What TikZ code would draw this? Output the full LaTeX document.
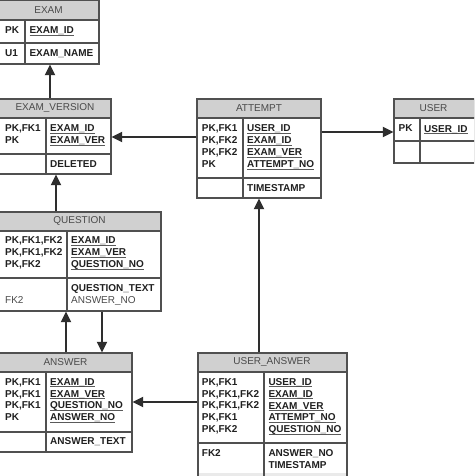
\documentclass[tikz,border=0pt]{standalone}
\usepackage{fontspec}
\setmainfont{Liberation Sans}
\usetikzlibrary{arrows.meta,fit}
\definecolor{hdrfill}{HTML}{D0D0D0}
\definecolor{boxline}{HTML}{505050}
\definecolor{txtdark}{HTML}{202020}
\definecolor{txtgray}{HTML}{4A4A4A}
\definecolor{arrline}{HTML}{2E2E2E}
\definecolor{ulcol}{HTML}{5A5A5A}
\newlength{\myulw}
\newcommand{\keyu}[1]{\settowidth{\myulw}{#1}\rlap{\textcolor{ulcol}{\rule[-1.9pt]{\myulw}{0.7pt}}}#1}
\newcommand{\rg}[1]{{\mdseries\textcolor{txtgray}{#1}}}
\tikzset{
  ent/.style={draw=boxline, line width=1.2pt, inner sep=0pt},
  sepline/.style={draw=boxline, line width=1.2pt},
  hdrtxt/.style={inner sep=0pt, text=txtgray, font=\fontsize{10}{11.9}\selectfont},
  cell/.style={anchor=north west, inner sep=0pt, align=left, text=txtdark, font=\fontsize{10}{11.9}\selectfont\bfseries},
  rcell/.style={anchor=north west, inner sep=0pt, align=left, text=txtgray, font=\fontsize{10}{11.9}\selectfont},
  arr/.style={draw=arrline, line width=1.8pt, -{Triangle[width=10pt,length=10.5pt]}},
}
% #1 name, #2 left, #3 top, #4 right, #5 bottom, #6 header bottom, #7 key bottom, #8 divider x
\newcommand{\entity}[8]{%
  \fill[hdrfill] (#2,#3) rectangle (#4,#6);
  \node[ent, fit={(#2,#3) (#4,#5)}] (#1) {};
  \draw[sepline] (#2,#6) -- (#4,#6);
  \draw[sepline] (#2,#7) -- (#4,#7);
  \draw[sepline] (#8,#6) -- (#8,#5);
}
\begin{document}
\begin{tikzpicture}[x=1pt,y=-1pt]
\useasboundingbox (0,0) rectangle (474,476);
\fill[white] (0,0) rectangle (474,476);
\clip (0,0) rectangle (474,476);

% EXAM
\entity{exam}{-2}{0.5}{99}{64}{20}{43}{25}
\node[hdrtxt] (exam-t) at (48.5,10) {EXAM};
\node[cell] (exam-k1) at (5,26.6) {PK};
\node[cell] (exam-k2) at (29.3,26.6) {\keyu{EXAM\_ID}};
\node[cell] (exam-n1) at (5,49.6) {U1};
\node[cell] (exam-n2) at (29.3,49.6) {EXAM\_NAME};

% EXAM_VERSION
\entity{ev}{-2}{99}{111}{174}{118}{154}{46}
\node[hdrtxt] (ev-t) at (55,108.5) {EXAM\_VERSION};
\node[cell] (ev-k1) at (5,124.6) {PK,FK1\\PK};
\node[cell] (ev-k2) at (50,124.6) {\keyu{EXAM\_ID}\\\keyu{EXAM\_VER}};
\node[cell] (ev-n2) at (50,160.4) {DELETED};

% ATTEMPT
\entity{att}{197}{99}{321}{198}{118}{178}{243}
\node[hdrtxt] (att-t) at (259,108.5) {ATTEMPT};
\node[cell] (att-k1) at (201.7,124.7) {PK,FK1\\PK,FK2\\PK,FK2\\PK};
\node[cell] (att-k2) at (247,124.7) {\keyu{USER\_ID}\\\keyu{EXAM\_ID}\\\keyu{EXAM\_VER}\\\keyu{ATTEMPT\_NO}};
\node[cell] (att-n2) at (247,184.1) {TIMESTAMP};

% USER
\entity{user}{394}{99}{475}{163}{118}{141}{420}
\node[hdrtxt] (user-t) at (433.5,108.5) {USER};
\node[cell] (user-k1) at (398.5,124.9) {PK};
\node[cell] (user-k2) at (424,124.9) {\keyu{USER\_ID}};

% QUESTION
\entity{q}{-2}{212}{161}{311}{231}{278}{67}
\node[hdrtxt] (q-t) at (79.5,221) {QUESTION};
\node[cell] (q-k1) at (5,236.7) {PK,FK1,FK2\\PK,FK1,FK2\\PK,FK2};
\node[cell] (q-k2) at (71,236.7) {\keyu{EXAM\_ID}\\\keyu{EXAM\_VER}\\\keyu{QUESTION\_NO}};
\node[rcell] (q-n1) at (5,296.4) {FK2};
\node[cell] (q-n2) at (71,284.1) {QUESTION\_TEXT\\\rg{ANSWER\_NO}};

% ANSWER
\entity{ans}{-2}{353}{132}{452}{372}{432}{46}
\node[hdrtxt] (ans-t) at (65.5,362) {ANSWER};
\node[cell] (ans-k1) at (5,378.1) {PK,FK1\\PK,FK1\\PK,FK1\\PK};
\node[cell] (ans-k2) at (50,378.1) {\keyu{EXAM\_ID}\\\keyu{EXAM\_VER}\\\keyu{QUESTION\_NO}\\\keyu{ANSWER\_NO}};
\node[cell] (ans-n2) at (50,437.1) {ANSWER\_TEXT};

% USER_ANSWER
\fill[hdrfill!45] (198,472.5) rectangle (347,480);
\entity{ua}{198}{353}{347}{480}{372}{443}{264}
\node[hdrtxt] (ua-t) at (272,362) {USER\_ANSWER};
\node[cell] (ua-k1) at (201.7,378.1) {PK,FK1\\PK,FK1,FK2\\PK,FK1,FK2\\PK,FK1\\PK,FK2};
\node[cell] (ua-k2) at (268.3,378.1) {\keyu{USER\_ID}\\\keyu{EXAM\_ID}\\\keyu{EXAM\_VER}\\\keyu{ATTEMPT\_NO}\\\keyu{QUESTION\_NO}};
\node[cell] (ua-n1) at (201.7,449.1) {FK2};
\node[cell] (ua-n2) at (268.3,449.1) {ANSWER\_NO\\TIMESTAMP};

% connectors
\draw[arr] (50,0 |- ev.north) -- (50,0 |- exam.south);
\draw[arr] (56,0 |- q.north) -- (56,0 |- ev.south);
\draw[arr] (0,137 -| att.west) -- (0,137 -| ev.east);
\draw[arr] (0,132 -| att.east) -- (0,132 -| user.west);
\draw[arr] (259,0 |- ua.north) -- (259,0 |- att.south);
\draw[arr] (66,0 |- ans.north) -- (66,0 |- q.south);
\draw[arr] (102,0 |- q.south) -- (102,0 |- ans.north);
\draw[arr] (0,402 -| ua.west) -- (0,402 -| ans.east);
\end{tikzpicture}
\end{document}
